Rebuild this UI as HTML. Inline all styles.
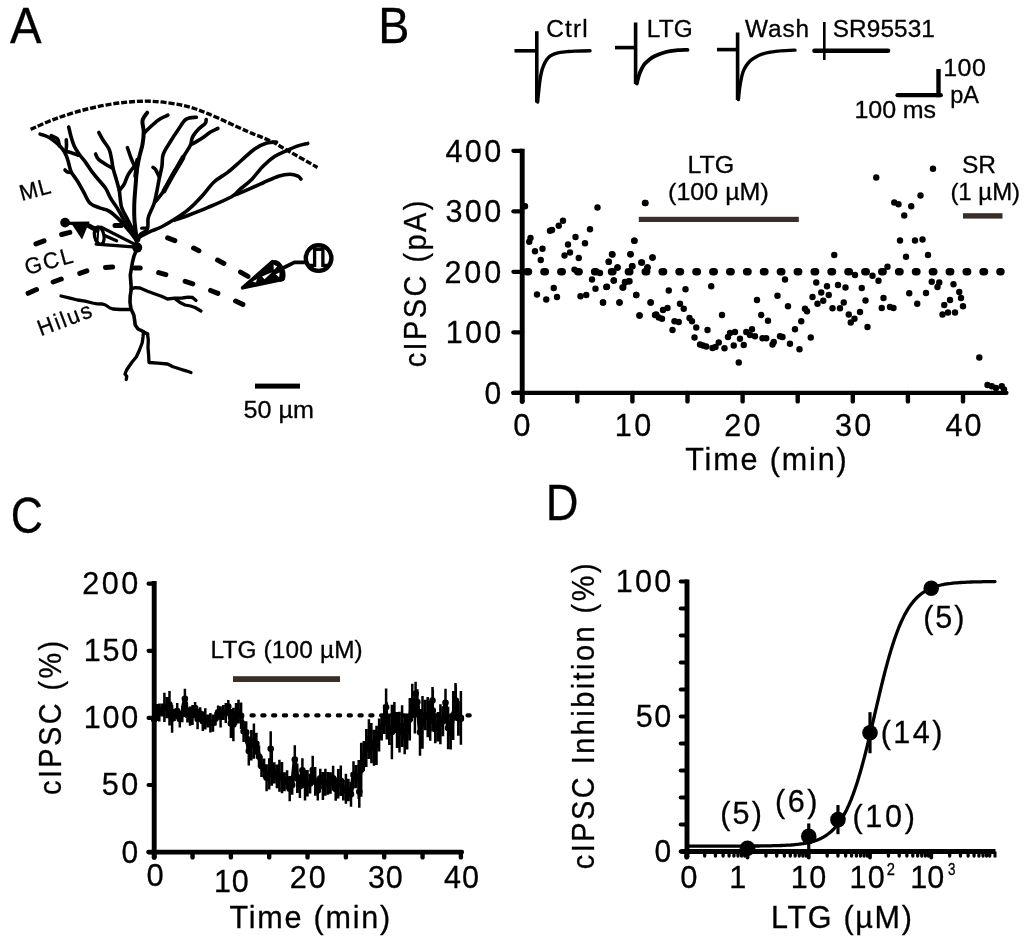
<!DOCTYPE html>
<html lang="en"><head><meta charset="utf-8"><title>Figure</title>
<style>html,body{margin:0;padding:0;background:#fff;overflow:hidden}svg{display:block}text{font-family:"Liberation Sans",sans-serif;fill:#000;stroke:#000;stroke-width:0.3px}</style></head>
<body><svg width="1024" height="945" viewBox="0 0 1024 945">
<rect width="1024" height="945" fill="#fff"/>
<!-- Panel A : neuron drawing -->
<text transform="translate(10.00,42.90) scale(0.9474,1)" font-size="50.0" letter-spacing="0.000">A</text>
<path d="M30.6,129.4 C35.0,127.6 47.1,121.8 56.7,118.3 C66.4,114.8 77.9,111.3 88.5,108.7 C99.1,106.1 109.6,104.1 120.2,102.9 C130.8,101.7 141.4,100.8 152.0,101.3 C162.6,101.8 174.4,103.5 183.7,105.6 C193.0,107.7 197.4,109.4 208.0,113.7 C218.6,118.0 236.8,126.8 247.2,131.3 C257.6,135.9 264.1,137.9 270.6,141.0 C277.1,144.1 278.5,145.4 286.3,149.8 C294.1,154.2 312.3,164.5 317.5,167.4" fill="none" stroke="#000" stroke-width="3.4" stroke-dasharray="6 1.9"/>
<path d="M137.0,246.0 C136.8,244.2 136.5,239.1 136.1,234.9 C135.7,230.7 134.8,225.1 134.5,220.6 C134.2,216.1 134.1,212.1 134.2,207.9 C134.2,203.7 134.5,199.4 134.8,195.2 C135.1,191.0 135.5,186.7 135.8,182.5 C136.2,178.3 136.3,174.0 136.9,169.8 C137.5,165.6 138.4,161.3 139.3,157.1 C140.2,152.9 141.8,148.6 142.5,144.4 C143.2,140.2 143.7,135.7 143.7,131.7 C143.7,127.7 141.9,123.8 142.5,120.6 C143.1,117.4 146.4,114.0 147.2,112.7" fill="none" stroke="#000" stroke-width="4.0" stroke-linecap="round" stroke-linejoin="round"/>
<path d="M135.6,176.0 C135.8,174.7 136.3,170.7 136.6,168.0 C136.9,165.3 137.3,161.3 137.5,160.0" fill="none" stroke="#000" stroke-width="4.6" stroke-linecap="round" stroke-linejoin="round"/>
<path d="M144.0,133.3 C145.3,132.0 149.3,127.8 152.0,125.4 C154.7,123.0 157.2,120.7 159.9,119.0 C162.6,117.3 166.6,115.8 167.9,115.1" fill="none" stroke="#000" stroke-width="3.6" stroke-linecap="round" stroke-linejoin="round"/>
<path d="M136.5,170.0 C135.6,168.1 132.8,162.4 131.3,158.7 C129.8,155.0 128.1,149.4 127.4,147.6" fill="none" stroke="#000" stroke-width="3.6" stroke-linecap="round" stroke-linejoin="round"/>
<path d="M136.5,240.0 C136.2,238.9 135.9,236.5 134.5,233.3 C133.1,230.1 130.3,224.8 128.2,220.6 C126.1,216.4 123.1,211.6 121.8,207.9 C120.5,204.2 120.6,201.3 120.2,198.4 C119.8,195.5 119.5,191.8 119.4,190.5" fill="none" stroke="#000" stroke-width="3.6" stroke-linecap="round" stroke-linejoin="round"/>
<path d="M119.4,190.5 C118.9,188.7 117.3,183.1 116.3,179.4 C115.2,175.7 113.9,171.8 113.1,168.3 C112.3,164.9 112.2,161.9 111.5,158.7 C110.8,155.5 110.5,152.4 109.1,149.2 C107.6,146.0 104.5,142.5 102.8,139.7 C101.1,136.9 99.5,133.7 98.8,132.5" fill="none" stroke="#000" stroke-width="3.6" stroke-linecap="round" stroke-linejoin="round"/>
<path d="M119.4,190.5 C120.2,189.4 122.7,186.8 124.2,184.1 C125.7,181.4 126.5,177.6 128.2,174.6 C129.9,171.6 133.4,167.4 134.5,166.0" fill="none" stroke="#000" stroke-width="3.6" stroke-linecap="round" stroke-linejoin="round"/>
<path d="M112.5,168.3 C111.2,167.5 106.8,165.1 104.4,163.5 C102.0,161.9 99.5,160.3 98.0,158.7 C96.5,157.1 96.0,154.8 95.6,154.0" fill="none" stroke="#000" stroke-width="3.6" stroke-linecap="round" stroke-linejoin="round"/>
<path d="M137.0,240.0 C135.8,238.1 132.1,232.1 129.8,228.6 C127.5,225.1 125.5,222.4 123.4,219.0 C121.3,215.6 119.2,211.3 117.1,207.9 C115.0,204.5 112.5,201.6 110.7,198.4 C108.9,195.2 107.8,191.8 106.0,188.9 C104.2,186.0 102.0,183.9 99.6,181.0 C97.2,178.1 94.1,174.6 91.7,171.4 C89.3,168.2 87.4,164.8 85.3,161.9 C83.2,159.0 80.8,156.7 79.0,154.0 C77.2,151.3 75.5,148.9 74.2,146.0 C72.9,143.1 71.9,139.7 71.0,136.5 C70.1,133.3 69.1,128.6 68.7,127.0" fill="none" stroke="#000" stroke-width="3.6" stroke-linecap="round" stroke-linejoin="round"/>
<path d="M136.0,240.0 C135.0,238.6 132.4,234.9 129.8,231.7 C127.2,228.5 123.7,224.0 120.2,220.6 C116.8,217.2 112.5,213.2 109.1,211.1 C105.7,209.0 102.8,209.2 99.6,207.9 C96.4,206.6 92.8,205.8 90.1,203.2 C87.4,200.6 85.8,195.8 83.7,192.1 C81.6,188.4 79.5,184.4 77.4,181.0 C75.3,177.6 72.6,174.8 71.0,171.4 C69.4,168.0 69.0,163.5 67.9,160.3 C66.9,157.1 66.0,154.8 64.7,152.4 C63.4,150.0 61.8,148.0 59.9,146.0 C58.0,144.0 55.7,142.1 53.6,140.5 C51.5,138.9 49.5,137.6 47.2,136.5 C45.0,135.4 41.3,134.5 40.1,134.1" fill="none" stroke="#000" stroke-width="3.6" stroke-linecap="round" stroke-linejoin="round"/>
<path d="M65.5,153.0 C65.7,151.8 66.4,148.2 66.5,146.0 C66.6,143.8 66.3,140.8 66.3,139.7" fill="none" stroke="#000" stroke-width="3.6" stroke-linecap="round" stroke-linejoin="round"/>
<path d="M59.5,146.0 C59.2,144.8 58.9,140.6 57.5,138.9 C56.1,137.2 52.2,136.2 51.2,135.7" fill="none" stroke="#000" stroke-width="3.6" stroke-linecap="round" stroke-linejoin="round"/>
<path d="M64.7,151.0 C66.0,151.4 70.3,152.5 72.6,153.2 C74.9,153.9 77.4,154.9 78.4,155.2" fill="none" stroke="#000" stroke-width="3.6" stroke-linecap="round" stroke-linejoin="round"/>
<path d="M71.0,172.5 C70.4,172.4 68.5,172.4 67.5,172.0 C66.5,171.6 65.4,170.3 65.0,170.0" fill="none" stroke="#000" stroke-width="3.6" stroke-linecap="round" stroke-linejoin="round"/>
<path d="M138.5,240.0 C138.8,239.2 138.5,236.7 140.0,234.9 C141.5,233.1 146.0,231.9 147.4,229.0 C148.8,226.1 147.2,221.6 148.3,217.4 C149.4,213.2 152.5,208.2 153.9,204.0 C155.3,199.8 155.7,196.7 156.6,192.5 C157.5,188.3 158.3,183.1 159.2,178.8 C160.1,174.5 161.2,170.6 161.9,166.5 C162.6,162.4 161.8,158.5 163.2,154.4 C164.5,150.3 167.5,146.3 170.0,142.2 C172.5,138.1 175.3,133.8 178.0,130.0 C180.7,126.2 182.9,121.4 186.0,119.3 C189.1,117.2 194.7,117.5 196.4,117.2" fill="none" stroke="#000" stroke-width="3.6" stroke-linecap="round" stroke-linejoin="round"/>
<path d="M159.3,177.1 C158.7,175.8 156.5,170.9 155.4,169.3 C154.3,167.7 153.4,167.7 153.0,167.4" fill="none" stroke="#000" stroke-width="3.6" stroke-linecap="round" stroke-linejoin="round"/>
<path d="M155.4,201.6 C156.7,200.0 160.6,195.7 163.2,191.8 C165.8,187.9 168.6,182.3 171.0,178.1 C173.4,173.9 175.6,170.3 177.9,166.4 C180.2,162.5 182.6,158.3 184.7,154.7 C186.8,151.1 189.2,147.8 190.5,144.9 C191.8,142.0 191.2,139.7 192.5,137.1 C193.8,134.5 196.3,131.6 198.4,129.3 C200.5,127.0 203.9,125.0 205.2,123.4 C206.5,121.8 206.0,120.2 206.2,119.5" fill="none" stroke="#000" stroke-width="3.6" stroke-linecap="round" stroke-linejoin="round"/>
<path d="M164.0,191.0 C165.2,188.8 168.7,182.2 171.0,178.1 C173.3,174.0 175.9,169.8 177.9,166.4 C179.9,163.0 182.2,159.0 183.0,157.5" fill="none" stroke="#000" stroke-width="4.8" stroke-linecap="round" stroke-linejoin="round"/>
<path d="M192.5,143.9 C194.1,142.9 199.4,140.1 202.3,138.1 C205.2,136.1 207.5,133.8 210.1,132.2 C212.7,130.6 216.6,129.0 217.9,128.3" fill="none" stroke="#000" stroke-width="3.6" stroke-linecap="round" stroke-linejoin="round"/>
<path d="M138.0,238.0 C139.9,237.0 145.6,233.6 149.5,231.8 C153.4,230.0 157.1,229.1 161.3,227.0 C165.5,224.9 170.4,222.0 174.9,219.1 C179.4,216.2 184.0,213.3 188.6,209.4 C193.2,205.5 198.1,200.3 202.3,195.7 C206.5,191.1 209.8,185.9 214.0,182.0 C218.2,178.1 223.1,175.9 227.7,172.3 C232.2,168.7 236.8,164.4 241.3,160.5 C245.9,156.6 250.8,151.7 255.0,148.8 C259.2,145.9 263.1,144.1 266.7,143.0 C270.3,141.9 274.9,142.2 276.5,142.0" fill="none" stroke="#000" stroke-width="3.6" stroke-linecap="round" stroke-linejoin="round"/>
<path d="M174.9,220.1 C177.2,219.3 183.1,217.3 188.6,215.2 C194.1,213.1 200.9,210.5 208.1,207.4 C215.3,204.3 226.4,199.6 231.6,196.7 C236.8,193.8 236.2,192.6 239.4,189.8 C242.7,187.0 247.2,184.0 251.1,180.1 C255.0,176.2 258.9,170.3 262.8,166.4 C266.7,162.5 270.6,159.2 274.5,156.6 C278.4,154.0 282.4,152.6 286.3,150.8 C290.2,149.0 294.4,147.1 298.0,145.9 C301.6,144.7 306.1,143.8 307.7,143.4" fill="none" stroke="#000" stroke-width="3.6" stroke-linecap="round" stroke-linejoin="round"/>
<path d="M235.5,194.7 C237.4,193.9 242.6,191.8 247.2,189.8 C251.8,187.9 257.6,185.3 262.8,183.0 C268.0,180.7 273.8,177.7 278.4,176.2 C283.0,174.7 286.9,174.2 290.2,174.2 C293.5,174.2 296.2,175.4 298.0,176.2 C299.8,177.0 300.4,178.6 300.9,179.1" fill="none" stroke="#000" stroke-width="3.6" stroke-linecap="round" stroke-linejoin="round"/>
<line x1="141.70" y1="228.20" x2="147.20" y2="228.20" stroke="#000" stroke-width="3.2" stroke-linecap="round"/>
<circle cx="137.20" cy="247.60" r="5" fill="#000"/>
<polyline points="136.5,250.0 134.0,256.0 132.5,262.0 131.5,268.0 130.3,275.0 130.8,282.0 131.3,289.0 130.2,296.0 130.0,302.5 131.0,309.0 133.8,315.0 134.6,320.0 135.2,325.0 138.0,329.0 142.5,331.2 147.5,334.0" fill="none" stroke="#000" stroke-width="3.5999999999999996" stroke-linecap="round" stroke-linejoin="round"/>
<polyline points="143.5,332.0 143.0,337.0 142.3,342.5 139.5,350.0 136.3,357.0 132.5,361.5 129.3,366.0 126.6,370.0 125.0,374.0 126.8,376.5 126.2,379.5" fill="none" stroke="#000" stroke-width="3.3" stroke-linecap="round" stroke-linejoin="round"/>
<polyline points="147.5,334.0 148.3,340.0 148.0,347.5 148.6,355.0 149.0,362.5 158.0,363.2 167.5,364.0 173.0,366.8 180.0,369.0 186.0,370.8 191.0,372.5" fill="none" stroke="#000" stroke-width="3.3" stroke-linecap="round" stroke-linejoin="round"/>
<polyline points="131.0,289.0 135.0,287.6 140.0,288.0 147.5,291.2 155.0,294.0 161.5,296.3 167.5,299.0 175.0,298.2 182.5,298.0 188.0,297.2 192.5,297.5 196.0,300.5" fill="none" stroke="#000" stroke-width="3.3" stroke-linecap="round" stroke-linejoin="round"/>
<polyline points="175.0,298.6 180.0,302.5 185.0,305.0 190.5,306.0 195.0,307.5 201.0,311.0" fill="none" stroke="#000" stroke-width="3.3" stroke-linecap="round" stroke-linejoin="round"/>
<polyline points="130.5,309.5 120.0,309.5 113.0,309.0 110.0,308.0 105.5,305.0 102.5,304.0 97.0,303.8 92.5,303.0 85.0,301.2 77.5,300.0 69.0,297.8 61.0,296.0" fill="none" stroke="#000" stroke-width="3.3" stroke-linecap="round" stroke-linejoin="round"/>
<line x1="115.00" y1="225.60" x2="121.20" y2="225.60" stroke="#000" stroke-width="5.0" stroke-linecap="round"/>
<line x1="61.66" y1="234.49" x2="69.84" y2="232.31" stroke="#000" stroke-width="5.0" stroke-linecap="round"/>
<line x1="35.93" y1="243.89" x2="44.07" y2="240.91" stroke="#000" stroke-width="5.0" stroke-linecap="round"/>
<line x1="167.63" y1="237.91" x2="174.87" y2="240.59" stroke="#000" stroke-width="5.0" stroke-linecap="round"/>
<line x1="193.58" y1="248.03" x2="198.92" y2="250.67" stroke="#000" stroke-width="5.0" stroke-linecap="round"/>
<line x1="217.56" y1="260.06" x2="223.94" y2="263.44" stroke="#000" stroke-width="5.0" stroke-linecap="round"/>
<line x1="240.54" y1="272.10" x2="247.96" y2="276.40" stroke="#000" stroke-width="5.0" stroke-linecap="round"/>
<line x1="105.50" y1="267.50" x2="112.60" y2="266.90" stroke="#000" stroke-width="5.0" stroke-linecap="round"/>
<line x1="79.73" y1="273.40" x2="86.87" y2="270.90" stroke="#000" stroke-width="5.0" stroke-linecap="round"/>
<line x1="53.13" y1="281.99" x2="61.27" y2="279.01" stroke="#000" stroke-width="5.0" stroke-linecap="round"/>
<line x1="28.09" y1="293.30" x2="36.51" y2="289.50" stroke="#000" stroke-width="5.0" stroke-linecap="round"/>
<line x1="134.70" y1="268.00" x2="140.20" y2="268.00" stroke="#000" stroke-width="5.0" stroke-linecap="round"/>
<line x1="158.65" y1="272.63" x2="165.85" y2="274.67" stroke="#000" stroke-width="5.0" stroke-linecap="round"/>
<line x1="185.14" y1="281.37" x2="192.86" y2="283.83" stroke="#000" stroke-width="5.0" stroke-linecap="round"/>
<line x1="210.61" y1="290.45" x2="217.89" y2="293.35" stroke="#000" stroke-width="5.0" stroke-linecap="round"/>
<line x1="235.58" y1="301.01" x2="242.92" y2="304.49" stroke="#000" stroke-width="5.0" stroke-linecap="round"/>
<text transform="translate(23.50,200.50) rotate(-15.00) translate(-1.70,0.00) scale(0.9700,1)" font-size="22.6" letter-spacing="0.884">ML</text>
<text transform="translate(28.00,274.80) rotate(-15.15) translate(-1.09,0.00) scale(0.9700,1)" font-size="22.6" letter-spacing="2.083">GCL</text>
<text transform="translate(42.40,335.70) rotate(-20.62) translate(-1.70,0.00) scale(0.9700,1)" font-size="22.6" letter-spacing="1.969">Hilus</text>
<circle cx="65.10" cy="222.60" r="4.9" fill="#000"/>
<line x1="65.00" y1="222.80" x2="90.00" y2="225.40" stroke="#000" stroke-width="3.0" stroke-linecap="butt"/>
<polygon points="70.2,221.8 89.6,221.4 82,239.4" fill="#000"/>
<line x1="88.50" y1="225.60" x2="97.00" y2="230.20" stroke="#000" stroke-width="5.0" stroke-linecap="round"/>
<path d="M101.2,227.2 L135.5,244.6 M96.2,244.2 L133,246.8 M104.5,235.4 L116.6,240.8" fill="none" stroke="#000" stroke-width="3.3" stroke-linecap="round"/>
<ellipse cx="99.2" cy="235.6" rx="4.7" ry="8.8" transform="rotate(-12 99.2 235.6)" fill="none" stroke="#000" stroke-width="3.2"/>
<line x1="98.20" y1="229.00" x2="97.40" y2="242.50" stroke="#000" stroke-width="2.2" stroke-linecap="butt"/>
<polygon points="242.6,287.8 272.5,261.6 283,279.2" fill="#000" stroke="#000" stroke-width="3.6" stroke-linejoin="round"/>
<ellipse cx="277.8" cy="270.8" rx="5.0" ry="9.6" transform="rotate(-24 277.8 270.8)" fill="#000" stroke="#000" stroke-width="3.6"/>
<path d="M252.5,281.6 L257,279 L256,282.6 Z M262,276.6 L272,272.2 L264.5,279.2 Z M273.6,264.6 L277.2,266.6 L273.8,270 Z M275.6,274.2 L279.6,272.4 L279.2,277.2 Z" fill="#fff"/>
<polyline points="282.6,268.3 294.4,262.4 305.6,262.4" fill="none" stroke="#000" stroke-width="3.8" stroke-linecap="round" stroke-linejoin="round"/>
<circle cx="318.60" cy="258.10" r="12.8" fill="#fff" stroke="#000" stroke-width="4.4"/>
<path d="M310,265.4 H314.6 V249.4 H322.9 V265.4 H327.4" fill="none" stroke="#000" stroke-width="3.3" stroke-linejoin="miter"/>
<rect x="255.00" y="383.60" width="45.00" height="5.00" fill="#000"/>
<text transform="translate(243.59,417.90) scale(1.0402,1)" font-size="24.2" letter-spacing="0.000">50 µm</text>
<!-- Panel B : example traces + time course -->
<text transform="translate(378.16,42.90) scale(0.9346,1)" font-size="50.0" letter-spacing="0.000">B</text>
<line x1="514.50" y1="50.80" x2="535.00" y2="50.80" stroke="#000" stroke-width="3.6" stroke-linecap="butt"/>
<line x1="536.80" y1="31.20" x2="536.80" y2="102.50" stroke="#000" stroke-width="3.6" stroke-linecap="butt"/>
<path d="M537.6,102.0 C537.8,100.3 538.2,95.7 538.6,92.0 C539.0,88.3 539.5,83.4 540.0,80.0 C540.5,76.6 541.0,74.0 541.6,71.5 C542.2,69.0 543.0,66.9 543.8,65.0 C544.6,63.1 545.5,61.5 546.5,60.0 C547.5,58.5 548.7,57.2 550.0,56.2 C551.3,55.2 552.8,54.4 554.5,53.8 C556.2,53.2 557.9,52.8 560.0,52.4 C562.1,52.0 564.5,51.8 567.0,51.6 C569.5,51.4 571.2,51.2 575.0,51.1 C578.8,51.0 587.5,50.8 590.0,50.7" fill="none" stroke="#000" stroke-width="3.4" stroke-linecap="round" stroke-linejoin="round"/>
<line x1="615.00" y1="47.60" x2="634.00" y2="47.60" stroke="#000" stroke-width="3.6" stroke-linecap="butt"/>
<line x1="635.60" y1="22.50" x2="635.60" y2="84.00" stroke="#000" stroke-width="3.6" stroke-linecap="butt"/>
<path d="M636.8,83.5 C637.0,82.6 637.7,79.8 638.2,78.0 C638.7,76.2 639.3,74.2 640.0,72.5 C640.7,70.8 641.5,69.1 642.3,67.6 C643.1,66.1 643.8,65.0 645.0,63.6 C646.2,62.2 647.8,60.7 649.5,59.4 C651.2,58.1 652.9,57.0 655.0,56.0 C657.1,55.0 659.5,54.0 662.0,53.2 C664.5,52.4 667.3,51.7 670.0,51.2 C672.7,50.7 675.1,50.4 678.0,50.2 C680.9,50.0 685.9,49.9 687.5,49.8" fill="none" stroke="#000" stroke-width="3.8" stroke-linecap="round" stroke-linejoin="round"/>
<line x1="717.00" y1="49.60" x2="736.00" y2="49.60" stroke="#000" stroke-width="3.6" stroke-linecap="butt"/>
<line x1="737.60" y1="32.50" x2="737.60" y2="100.00" stroke="#000" stroke-width="3.6" stroke-linecap="butt"/>
<path d="M738.4,99.5 C738.6,97.9 739.0,93.2 739.4,90.0 C739.8,86.8 740.4,83.0 741.0,80.0 C741.6,77.0 742.2,74.3 743.0,72.0 C743.8,69.7 744.8,67.8 746.0,66.0 C747.2,64.2 748.5,62.4 750.0,61.0 C751.5,59.6 753.0,58.5 755.0,57.4 C757.0,56.3 759.5,55.1 762.0,54.2 C764.5,53.3 767.0,52.8 770.0,52.2 C773.0,51.7 775.8,51.2 780.0,50.9 C784.2,50.5 792.5,50.2 795.0,50.1" fill="none" stroke="#000" stroke-width="3.4" stroke-linecap="round" stroke-linejoin="round"/>
<line x1="824.30" y1="22.00" x2="824.30" y2="60.00" stroke="#000" stroke-width="2.6" stroke-linecap="butt"/>
<line x1="814.50" y1="50.80" x2="888.00" y2="50.80" stroke="#000" stroke-width="4.6" stroke-linecap="round"/>
<text transform="translate(546.31,37.40) scale(1.0600,1)" font-size="23.0" letter-spacing="1.065">Ctrl</text>
<text transform="translate(646.81,37.40) scale(1.0600,1)" font-size="23.0" letter-spacing="0.156">LTG</text>
<text transform="translate(745.00,36.70) scale(1.0600,1)" font-size="23.0" letter-spacing="0.821">Wash</text>
<text transform="translate(832.74,36.70) scale(1.0600,1)" font-size="23.0" letter-spacing="0.077">SR95531</text>
<line x1="897.50" y1="95.20" x2="940.80" y2="95.20" stroke="#000" stroke-width="4.2" stroke-linecap="round"/>
<line x1="938.50" y1="69.00" x2="938.50" y2="97.20" stroke="#000" stroke-width="4.4" stroke-linecap="butt"/>
<text transform="translate(854.54,118.00) scale(1.0600,1)" font-size="23.6" letter-spacing="-0.088">100 ms</text>
<text transform="translate(943.14,76.00) scale(1.0600,1)" font-size="23.6" letter-spacing="0.493">100</text>
<text transform="translate(950.20,102.60) scale(0.9973,1)" font-size="23.6" letter-spacing="0.000">pA</text>
<line x1="522.20" y1="148.80" x2="522.20" y2="401.60" stroke="#000" stroke-width="4.9" stroke-linecap="butt"/>
<circle cx="522.20" cy="401.60" r="2.45" fill="#000"/>
<line x1="513.40" y1="392.85" x2="1006.40" y2="392.85" stroke="#000" stroke-width="4.4" stroke-linecap="round"/>
<line x1="513.40" y1="392.85" x2="522.20" y2="392.85" stroke="#000" stroke-width="4.2" stroke-linecap="round"/>
<line x1="513.40" y1="332.35" x2="522.20" y2="332.35" stroke="#000" stroke-width="4.2" stroke-linecap="round"/>
<line x1="513.40" y1="271.85" x2="522.20" y2="271.85" stroke="#000" stroke-width="4.2" stroke-linecap="round"/>
<line x1="513.40" y1="211.35" x2="522.20" y2="211.35" stroke="#000" stroke-width="4.2" stroke-linecap="round"/>
<line x1="513.40" y1="150.85" x2="522.20" y2="150.85" stroke="#000" stroke-width="4.2" stroke-linecap="round"/>
<line x1="522.20" y1="392.85" x2="522.20" y2="401.40" stroke="#000" stroke-width="4.4" stroke-linecap="round"/>
<line x1="577.30" y1="392.85" x2="577.30" y2="401.40" stroke="#000" stroke-width="4.4" stroke-linecap="round"/>
<line x1="632.40" y1="392.85" x2="632.40" y2="401.40" stroke="#000" stroke-width="4.4" stroke-linecap="round"/>
<line x1="687.50" y1="392.85" x2="687.50" y2="401.40" stroke="#000" stroke-width="4.4" stroke-linecap="round"/>
<line x1="742.60" y1="392.85" x2="742.60" y2="401.40" stroke="#000" stroke-width="4.4" stroke-linecap="round"/>
<line x1="797.70" y1="392.85" x2="797.70" y2="401.40" stroke="#000" stroke-width="4.4" stroke-linecap="round"/>
<line x1="852.80" y1="392.85" x2="852.80" y2="401.40" stroke="#000" stroke-width="4.4" stroke-linecap="round"/>
<line x1="907.90" y1="392.85" x2="907.90" y2="401.40" stroke="#000" stroke-width="4.4" stroke-linecap="round"/>
<line x1="963.00" y1="392.85" x2="963.00" y2="401.40" stroke="#000" stroke-width="4.4" stroke-linecap="round"/>
<text transform="translate(445.39,161.75) scale(0.9700,1)" font-size="31.5" letter-spacing="2.460">400</text>
<text transform="translate(445.41,222.25) scale(0.9700,1)" font-size="31.5" letter-spacing="2.452">300</text>
<text transform="translate(444.55,282.75) scale(0.9700,1)" font-size="31.5" letter-spacing="2.898">200</text>
<text transform="translate(445.70,343.25) scale(0.9700,1)" font-size="31.5" letter-spacing="2.304">100</text>
<text transform="translate(484.43,403.75) scale(0.9508,1)" font-size="31.5" letter-spacing="0.000">0</text>
<text transform="translate(513.19,435.60) scale(0.9836,1)" font-size="31.5" letter-spacing="0.000">0</text>
<text transform="translate(614.70,435.60) scale(0.9700,1)" font-size="31.5" letter-spacing="2.521">10</text>
<text transform="translate(724.34,435.60) scale(0.9700,1)" font-size="31.5" letter-spacing="2.161">20</text>
<text transform="translate(834.91,435.60) scale(0.9700,1)" font-size="31.5" letter-spacing="2.302">30</text>
<text transform="translate(945.39,435.60) scale(0.9700,1)" font-size="31.5" letter-spacing="2.317">40</text>
<text transform="translate(685.19,469.90) scale(0.9700,1)" font-size="31.5" letter-spacing="1.917">Time (min)</text>
<text transform="translate(426.30,366.20) rotate(-90) translate(-1.15,0.00) scale(0.9200,1)" font-size="31.5" letter-spacing="2.654">cIPSC (pA)</text>
<line x1="527" y1="271.7" x2="1001" y2="271.7" stroke="#000" stroke-width="7.4" stroke-linecap="round" stroke-dasharray="1.5 15.39"/>
<rect x="638.80" y="216.80" width="160.00" height="5.20" fill="#3a2e29"/>
<rect x="963.00" y="213.20" width="39.50" height="5.40" fill="#3a2e29"/>
<text transform="translate(687.51,173.40) scale(1.0600,1)" font-size="23.6" letter-spacing="-0.029">LTG</text>
<text transform="translate(668.04,199.90) scale(1.0600,1)" font-size="23.6" letter-spacing="0.029">(100 µM)</text>
<text transform="translate(961.96,173.40) scale(1.0407,1)" font-size="23.6" letter-spacing="0.000">SR</text>
<text transform="translate(950.40,199.90) scale(1.0152,1)" font-size="23.6" letter-spacing="0.000">(1 µM)</text>
<circle cx="525.00" cy="206.25" r="3.2" fill="#000"/>
<circle cx="530.50" cy="238.00" r="3.2" fill="#000"/>
<circle cx="529.25" cy="241.75" r="3.2" fill="#000"/>
<circle cx="535.00" cy="251.25" r="3.2" fill="#000"/>
<circle cx="542.50" cy="248.75" r="3.2" fill="#000"/>
<circle cx="540.75" cy="260.00" r="3.2" fill="#000"/>
<circle cx="537.00" cy="294.50" r="3.2" fill="#000"/>
<circle cx="546.25" cy="299.50" r="3.2" fill="#000"/>
<circle cx="553.75" cy="288.00" r="3.2" fill="#000"/>
<circle cx="557.00" cy="297.00" r="3.2" fill="#000"/>
<circle cx="550.00" cy="230.75" r="3.2" fill="#000"/>
<circle cx="552.00" cy="230.00" r="3.2" fill="#000"/>
<circle cx="558.75" cy="225.75" r="3.2" fill="#000"/>
<circle cx="563.00" cy="220.75" r="3.2" fill="#000"/>
<circle cx="568.00" cy="244.50" r="3.2" fill="#000"/>
<circle cx="575.50" cy="237.00" r="3.2" fill="#000"/>
<circle cx="564.50" cy="255.50" r="3.2" fill="#000"/>
<circle cx="570.00" cy="252.50" r="3.2" fill="#000"/>
<circle cx="578.75" cy="258.00" r="3.2" fill="#000"/>
<circle cx="585.00" cy="243.25" r="3.2" fill="#000"/>
<circle cx="590.00" cy="229.25" r="3.2" fill="#000"/>
<circle cx="597.50" cy="207.50" r="3.2" fill="#000"/>
<circle cx="580.50" cy="296.25" r="3.2" fill="#000"/>
<circle cx="586.25" cy="295.00" r="3.2" fill="#000"/>
<circle cx="592.00" cy="279.50" r="3.2" fill="#000"/>
<circle cx="595.50" cy="288.75" r="3.2" fill="#000"/>
<circle cx="603.00" cy="302.50" r="3.2" fill="#000"/>
<circle cx="600.00" cy="273.00" r="3.2" fill="#000"/>
<circle cx="607.00" cy="286.75" r="3.2" fill="#000"/>
<circle cx="608.75" cy="261.75" r="3.2" fill="#000"/>
<circle cx="612.50" cy="254.50" r="3.2" fill="#000"/>
<circle cx="613.75" cy="280.50" r="3.2" fill="#000"/>
<circle cx="617.50" cy="267.50" r="3.2" fill="#000"/>
<circle cx="619.50" cy="302.50" r="3.2" fill="#000"/>
<circle cx="623.25" cy="287.50" r="3.2" fill="#000"/>
<circle cx="625.00" cy="282.50" r="3.2" fill="#000"/>
<circle cx="628.75" cy="281.25" r="3.2" fill="#000"/>
<circle cx="632.50" cy="266.25" r="3.2" fill="#000"/>
<circle cx="630.50" cy="254.25" r="3.2" fill="#000"/>
<circle cx="634.25" cy="240.75" r="3.2" fill="#000"/>
<circle cx="636.25" cy="295.00" r="3.2" fill="#000"/>
<circle cx="639.50" cy="315.50" r="3.2" fill="#000"/>
<circle cx="642.00" cy="262.50" r="3.2" fill="#000"/>
<circle cx="647.50" cy="267.50" r="3.2" fill="#000"/>
<circle cx="645.50" cy="203.00" r="3.2" fill="#000"/>
<circle cx="650.75" cy="302.50" r="3.2" fill="#000"/>
<circle cx="652.50" cy="257.50" r="3.2" fill="#000"/>
<circle cx="655.00" cy="315.00" r="3.2" fill="#000"/>
<circle cx="645.00" cy="203.00" r="3.2" fill="#000"/>
<circle cx="634.50" cy="240.75" r="3.2" fill="#000"/>
<circle cx="612.00" cy="254.25" r="3.2" fill="#000"/>
<circle cx="630.50" cy="254.25" r="3.2" fill="#000"/>
<circle cx="652.50" cy="257.50" r="3.2" fill="#000"/>
<circle cx="608.75" cy="261.75" r="3.2" fill="#000"/>
<circle cx="641.25" cy="262.50" r="3.2" fill="#000"/>
<circle cx="632.00" cy="266.25" r="3.2" fill="#000"/>
<circle cx="617.50" cy="267.50" r="3.2" fill="#000"/>
<circle cx="647.50" cy="267.50" r="3.2" fill="#000"/>
<circle cx="613.75" cy="280.50" r="3.2" fill="#000"/>
<circle cx="625.00" cy="282.00" r="3.2" fill="#000"/>
<circle cx="629.50" cy="281.25" r="3.2" fill="#000"/>
<circle cx="622.50" cy="287.50" r="3.2" fill="#000"/>
<circle cx="606.25" cy="287.00" r="3.2" fill="#000"/>
<circle cx="636.25" cy="295.00" r="3.2" fill="#000"/>
<circle cx="603.00" cy="302.50" r="3.2" fill="#000"/>
<circle cx="619.50" cy="302.50" r="3.2" fill="#000"/>
<circle cx="650.50" cy="302.50" r="3.2" fill="#000"/>
<circle cx="639.50" cy="315.50" r="3.2" fill="#000"/>
<circle cx="668.75" cy="290.50" r="3.2" fill="#000"/>
<circle cx="685.50" cy="289.25" r="3.2" fill="#000"/>
<circle cx="711.25" cy="286.25" r="3.2" fill="#000"/>
<circle cx="680.00" cy="303.75" r="3.2" fill="#000"/>
<circle cx="683.75" cy="308.75" r="3.2" fill="#000"/>
<circle cx="667.50" cy="308.00" r="3.2" fill="#000"/>
<circle cx="663.00" cy="310.00" r="3.2" fill="#000"/>
<circle cx="656.25" cy="314.50" r="3.2" fill="#000"/>
<circle cx="658.75" cy="317.50" r="3.2" fill="#000"/>
<circle cx="662.00" cy="318.75" r="3.2" fill="#000"/>
<circle cx="674.50" cy="321.25" r="3.2" fill="#000"/>
<circle cx="678.75" cy="322.00" r="3.2" fill="#000"/>
<circle cx="672.50" cy="330.00" r="3.2" fill="#000"/>
<circle cx="689.50" cy="318.00" r="3.2" fill="#000"/>
<circle cx="692.00" cy="321.25" r="3.2" fill="#000"/>
<circle cx="696.25" cy="327.50" r="3.2" fill="#000"/>
<circle cx="707.50" cy="330.00" r="3.2" fill="#000"/>
<circle cx="694.50" cy="337.50" r="3.2" fill="#000"/>
<circle cx="700.00" cy="344.50" r="3.2" fill="#000"/>
<circle cx="703.00" cy="345.50" r="3.2" fill="#000"/>
<circle cx="706.25" cy="346.50" r="3.2" fill="#000"/>
<circle cx="712.50" cy="348.00" r="3.2" fill="#000"/>
<circle cx="715.50" cy="347.00" r="3.2" fill="#000"/>
<circle cx="718.75" cy="342.50" r="3.2" fill="#000"/>
<circle cx="724.50" cy="348.25" r="3.2" fill="#000"/>
<circle cx="722.00" cy="315.00" r="3.2" fill="#000"/>
<circle cx="728.00" cy="337.00" r="3.2" fill="#000"/>
<circle cx="730.00" cy="333.00" r="3.2" fill="#000"/>
<circle cx="735.00" cy="332.00" r="3.2" fill="#000"/>
<circle cx="733.75" cy="345.50" r="3.2" fill="#000"/>
<circle cx="740.00" cy="338.75" r="3.2" fill="#000"/>
<circle cx="743.75" cy="345.00" r="3.2" fill="#000"/>
<circle cx="746.25" cy="332.00" r="3.2" fill="#000"/>
<circle cx="750.00" cy="335.00" r="3.2" fill="#000"/>
<circle cx="752.00" cy="329.25" r="3.2" fill="#000"/>
<circle cx="755.00" cy="336.25" r="3.2" fill="#000"/>
<circle cx="738.75" cy="362.50" r="3.2" fill="#000"/>
<circle cx="757.00" cy="300.00" r="3.2" fill="#000"/>
<circle cx="761.25" cy="315.00" r="3.2" fill="#000"/>
<circle cx="768.00" cy="320.75" r="3.2" fill="#000"/>
<circle cx="762.50" cy="338.25" r="3.2" fill="#000"/>
<circle cx="766.25" cy="338.25" r="3.2" fill="#000"/>
<circle cx="772.50" cy="344.50" r="3.2" fill="#000"/>
<circle cx="773.75" cy="342.00" r="3.2" fill="#000"/>
<circle cx="780.00" cy="336.25" r="3.2" fill="#000"/>
<circle cx="782.50" cy="337.00" r="3.2" fill="#000"/>
<circle cx="777.50" cy="295.75" r="3.2" fill="#000"/>
<circle cx="785.00" cy="279.50" r="3.2" fill="#000"/>
<circle cx="788.00" cy="306.25" r="3.2" fill="#000"/>
<circle cx="790.00" cy="343.75" r="3.2" fill="#000"/>
<circle cx="799.50" cy="349.25" r="3.2" fill="#000"/>
<circle cx="795.00" cy="329.25" r="3.2" fill="#000"/>
<circle cx="801.25" cy="321.25" r="3.2" fill="#000"/>
<circle cx="805.00" cy="308.75" r="3.2" fill="#000"/>
<circle cx="807.00" cy="311.25" r="3.2" fill="#000"/>
<circle cx="810.75" cy="337.50" r="3.2" fill="#000"/>
<circle cx="812.50" cy="297.00" r="3.2" fill="#000"/>
<circle cx="816.25" cy="282.50" r="3.2" fill="#000"/>
<circle cx="821.25" cy="292.50" r="3.2" fill="#000"/>
<circle cx="823.25" cy="300.75" r="3.2" fill="#000"/>
<circle cx="817.50" cy="303.75" r="3.2" fill="#000"/>
<circle cx="827.00" cy="286.25" r="3.2" fill="#000"/>
<circle cx="828.75" cy="295.00" r="3.2" fill="#000"/>
<circle cx="834.25" cy="255.00" r="3.2" fill="#000"/>
<circle cx="832.50" cy="308.25" r="3.2" fill="#000"/>
<circle cx="838.00" cy="285.00" r="3.2" fill="#000"/>
<circle cx="840.00" cy="308.25" r="3.2" fill="#000"/>
<circle cx="843.75" cy="302.50" r="3.2" fill="#000"/>
<circle cx="845.50" cy="287.50" r="3.2" fill="#000"/>
<circle cx="848.75" cy="314.50" r="3.2" fill="#000"/>
<circle cx="850.75" cy="322.50" r="3.2" fill="#000"/>
<circle cx="854.50" cy="318.75" r="3.2" fill="#000"/>
<circle cx="855.00" cy="275.00" r="3.2" fill="#000"/>
<circle cx="861.75" cy="288.00" r="3.2" fill="#000"/>
<circle cx="865.50" cy="300.50" r="3.2" fill="#000"/>
<circle cx="860.00" cy="312.00" r="3.2" fill="#000"/>
<circle cx="867.50" cy="327.00" r="3.2" fill="#000"/>
<circle cx="876.25" cy="177.50" r="3.2" fill="#000"/>
<circle cx="872.50" cy="275.75" r="3.2" fill="#000"/>
<circle cx="878.50" cy="280.75" r="3.2" fill="#000"/>
<circle cx="883.50" cy="298.00" r="3.2" fill="#000"/>
<circle cx="881.75" cy="308.00" r="3.2" fill="#000"/>
<circle cx="890.00" cy="307.00" r="3.2" fill="#000"/>
<circle cx="893.50" cy="308.00" r="3.2" fill="#000"/>
<circle cx="887.50" cy="266.75" r="3.2" fill="#000"/>
<circle cx="894.25" cy="202.50" r="3.2" fill="#000"/>
<circle cx="898.50" cy="204.25" r="3.2" fill="#000"/>
<circle cx="904.25" cy="215.50" r="3.2" fill="#000"/>
<circle cx="911.25" cy="206.25" r="3.2" fill="#000"/>
<circle cx="920.50" cy="195.50" r="3.2" fill="#000"/>
<circle cx="933.00" cy="168.75" r="3.2" fill="#000"/>
<circle cx="900.00" cy="240.50" r="3.2" fill="#000"/>
<circle cx="915.00" cy="240.50" r="3.2" fill="#000"/>
<circle cx="922.50" cy="239.50" r="3.2" fill="#000"/>
<circle cx="906.00" cy="256.75" r="3.2" fill="#000"/>
<circle cx="928.00" cy="255.00" r="3.2" fill="#000"/>
<circle cx="909.25" cy="293.25" r="3.2" fill="#000"/>
<circle cx="917.25" cy="303.75" r="3.2" fill="#000"/>
<circle cx="926.00" cy="293.00" r="3.2" fill="#000"/>
<circle cx="931.75" cy="281.75" r="3.2" fill="#000"/>
<circle cx="939.25" cy="282.50" r="3.2" fill="#000"/>
<circle cx="937.50" cy="287.00" r="3.2" fill="#000"/>
<circle cx="953.50" cy="284.25" r="3.2" fill="#000"/>
<circle cx="959.25" cy="292.00" r="3.2" fill="#000"/>
<circle cx="961.00" cy="298.00" r="3.2" fill="#000"/>
<circle cx="950.00" cy="300.00" r="3.2" fill="#000"/>
<circle cx="963.00" cy="306.25" r="3.2" fill="#000"/>
<circle cx="944.25" cy="305.00" r="3.2" fill="#000"/>
<circle cx="942.50" cy="314.50" r="3.2" fill="#000"/>
<circle cx="948.00" cy="312.50" r="3.2" fill="#000"/>
<circle cx="955.00" cy="312.50" r="3.2" fill="#000"/>
<circle cx="574.50" cy="269.60" r="3.2" fill="#000"/>
<circle cx="979.30" cy="357.50" r="3.2" fill="#000"/>
<circle cx="987.50" cy="385.00" r="3.2" fill="#000"/>
<circle cx="991.80" cy="386.30" r="3.2" fill="#000"/>
<circle cx="996.00" cy="388.00" r="3.2" fill="#000"/>
<circle cx="1001.80" cy="386.30" r="3.2" fill="#000"/>
<circle cx="1004.00" cy="389.50" r="3.2" fill="#000"/>
<!-- Panel C : pooled time course -->
<text transform="translate(10.77,532.60) scale(0.8913,1)" font-size="50.0" letter-spacing="0.000">C</text>
<line x1="154.20" y1="581.00" x2="154.20" y2="857.40" stroke="#000" stroke-width="4.9" stroke-linecap="butt"/>
<circle cx="154.20" cy="857.40" r="2.45" fill="#000"/>
<line x1="148.60" y1="852.10" x2="461.80" y2="852.10" stroke="#000" stroke-width="4.6" stroke-linecap="round"/>
<line x1="148.60" y1="852.10" x2="154.20" y2="852.10" stroke="#000" stroke-width="4.2" stroke-linecap="round"/>
<line x1="148.60" y1="785.00" x2="154.20" y2="785.00" stroke="#000" stroke-width="4.2" stroke-linecap="round"/>
<line x1="148.60" y1="717.90" x2="154.20" y2="717.90" stroke="#000" stroke-width="4.2" stroke-linecap="round"/>
<line x1="148.60" y1="650.80" x2="154.20" y2="650.80" stroke="#000" stroke-width="4.2" stroke-linecap="round"/>
<line x1="148.60" y1="583.70" x2="154.20" y2="583.70" stroke="#000" stroke-width="4.2" stroke-linecap="round"/>
<line x1="154.20" y1="852.10" x2="154.20" y2="857.40" stroke="#000" stroke-width="4.4" stroke-linecap="round"/>
<line x1="192.53" y1="852.10" x2="192.53" y2="857.40" stroke="#000" stroke-width="4.4" stroke-linecap="round"/>
<line x1="230.87" y1="852.10" x2="230.87" y2="857.40" stroke="#000" stroke-width="4.4" stroke-linecap="round"/>
<line x1="269.20" y1="852.10" x2="269.20" y2="857.40" stroke="#000" stroke-width="4.4" stroke-linecap="round"/>
<line x1="307.54" y1="852.10" x2="307.54" y2="857.40" stroke="#000" stroke-width="4.4" stroke-linecap="round"/>
<line x1="345.88" y1="852.10" x2="345.88" y2="857.40" stroke="#000" stroke-width="4.4" stroke-linecap="round"/>
<line x1="384.21" y1="852.10" x2="384.21" y2="857.40" stroke="#000" stroke-width="4.4" stroke-linecap="round"/>
<line x1="422.54" y1="852.10" x2="422.54" y2="857.40" stroke="#000" stroke-width="4.4" stroke-linecap="round"/>
<line x1="460.88" y1="852.10" x2="460.88" y2="857.40" stroke="#000" stroke-width="4.4" stroke-linecap="round"/>
<text transform="translate(82.34,594.10) scale(0.9700,1)" font-size="31.5" letter-spacing="2.485">200</text>
<text transform="translate(83.70,661.20) scale(0.9700,1)" font-size="31.5" letter-spacing="1.789">150</text>
<text transform="translate(83.70,728.30) scale(0.9700,1)" font-size="31.5" letter-spacing="1.789">100</text>
<text transform="translate(101.79,795.40) scale(0.9700,1)" font-size="31.5" letter-spacing="2.427">50</text>
<text transform="translate(121.43,862.50) scale(0.9508,1)" font-size="31.5" letter-spacing="0.000">0</text>
<text transform="translate(146.39,885.90) scale(0.9836,1)" font-size="31.5" letter-spacing="0.000">0</text>
<text transform="translate(214.00,891.70) scale(0.9700,1)" font-size="31.5" letter-spacing="0.665">10</text>
<text transform="translate(289.85,888.40) scale(0.9700,1)" font-size="31.5" letter-spacing="1.852">20</text>
<text transform="translate(367.91,888.40) scale(0.9700,1)" font-size="31.5" letter-spacing="0.755">30</text>
<text transform="translate(444.09,888.40) scale(0.9700,1)" font-size="31.5" letter-spacing="1.080">40</text>
<text transform="translate(229.39,927.90) scale(0.9700,1)" font-size="31.5" letter-spacing="1.836">Time (min)</text>
<text transform="translate(61.30,793.80) rotate(-90) translate(-1.15,0.00) scale(0.9200,1)" font-size="31.5" letter-spacing="2.573">cIPSC (%)</text>
<line x1="251.5" y1="715.4" x2="476" y2="715.4" stroke="#000" stroke-width="4.2" stroke-linecap="round" stroke-dasharray="2.2 8.6"/>
<rect x="233.00" y="676.20" width="107.00" height="5.80" fill="#3a2e29"/>
<text transform="translate(210.51,658.40) scale(1.0600,1)" font-size="23.0" letter-spacing="0.159">LTG (100 µM)</text>
<path d="M154.2,709.1V729.8 M156.8,704.1V720.9 M159.3,703.4V721.4 M161.9,703.5V716.5 M164.4,692.7V722.0 M167.0,696.9V718.3 M169.5,701.3V725.6 M172.1,704.9V732.7 M174.6,708.7V721.1 M177.2,703.0V719.2 M179.8,710.7V727.5 M182.3,705.8V722.2 M184.9,688.8V708.8 M187.4,707.5V722.5 M190.0,706.4V725.7 M192.5,704.9V724.9 M195.1,702.0V714.1 M197.6,708.5V729.2 M200.2,707.2V719.9 M202.8,711.5V730.9 M205.3,708.3V729.4 M207.9,714.4V727.6 M210.4,712.9V732.5 M213.0,714.5V731.8 M215.5,712.2V725.5 M218.1,705.6V718.8 M220.6,706.2V727.4 M223.2,705.1V720.1 M225.8,702.9V723.0 M228.3,700.1V713.1 M230.9,708.9V738.1 M233.4,707.7V741.2 M236.0,703.0V725.0 M238.5,699.7V723.5 M241.1,702.6V729.1 M243.6,720.7V741.9 M246.2,721.3V743.4 M248.8,736.6V765.4 M251.3,730.0V760.6 M253.9,723.6V758.8 M256.4,732.8V754.8 M259.0,745.4V767.6 M261.5,755.7V776.9 M264.1,758.5V778.2 M266.6,764.2V791.3 M269.2,758.3V789.4 M271.8,750.3V785.8 M274.3,762.3V783.4 M276.9,764.5V788.2 M279.4,759.8V791.8 M282.0,761.9V793.3 M284.5,772.3V791.3 M287.1,770.3V789.4 M289.7,776.1V801.3 M292.2,775.0V794.8 M294.8,745.2V773.8 M297.3,763.7V793.1 M299.9,774.5V798.0 M302.4,758.2V782.5 M305.0,770.0V800.4 M307.5,769.9V796.5 M310.1,773.7V793.6 M312.7,755.8V784.3 M315.2,767.1V795.7 M317.8,780.5V800.4 M320.3,768.7V787.9 M322.9,771.9V800.1 M325.4,768.8V795.8 M328.0,771.9V794.7 M330.5,772.3V793.8 M333.1,765.8V790.5 M335.7,777.5V800.7 M338.2,769.0V798.6 M340.8,765.5V796.1 M343.3,779.8V800.4 M345.9,773.8V803.8 M348.4,778.7V801.2 M351.0,781.9V806.7 M353.5,761.3V788.5 M356.1,765.1V788.2 M358.7,760.0V799.0 M361.2,742.7V796.7 M363.8,740.9V770.9 M366.3,729.1V767.0 M368.9,719.2V758.9 M371.4,723.0V763.2 M374.0,729.7V765.7 M376.5,725.8V765.1 M379.1,718.4V751.4 M381.7,716.1V740.4 M384.2,704.7V734.0 M386.8,702.3V739.5 M389.3,713.4V745.0 M391.9,704.7V759.3 M394.4,702.0V728.6 M397.0,712.0V747.9 M399.5,711.8V752.5 M402.1,705.2V747.1 M404.7,716.6V754.3 M407.2,713.4V749.6 M409.8,697.9V740.5 M412.3,683.7V717.9 M414.9,693.3V733.6 M417.4,689.2V714.9 M420.0,709.0V755.7 M422.5,696.0V748.8 M425.1,699.7V730.2 M427.7,696.9V737.2 M430.2,700.7V740.7 M432.8,689.6V731.5 M435.3,714.9V743.2 M437.9,712.0V741.6 M440.4,704.2V744.2 M443.0,706.2V736.2 M445.5,688.8V716.8 M448.1,706.8V749.2 M450.7,715.3V749.5 M453.2,690.9V739.9 M455.8,684.7V716.4 M458.3,701.0V735.7 M460.9,701.7V735.9 M169.5,691.1V717.9 M184.9,692.4V716.6 M270.7,731.3V766.2 M359.3,775.6V807.8 M386.1,688.4V726.0 M415.6,681.7V705.8 M432.5,687.0V713.9 M455.5,683.0V720.6 M460.9,691.1V744.7" stroke="#000" stroke-width="2.5" fill="none"/>
<path d="M154.2,719.5 L156.8,712.5 L159.3,712.4 L161.9,710.0 L164.4,707.3 L167.0,707.6 L169.5,713.4 L172.1,718.8 L174.6,714.9 L177.2,711.1 L179.8,719.1 L182.3,714.0 L184.9,698.8 L187.4,715.0 L190.0,716.1 L192.5,714.9 L195.1,708.0 L197.6,718.9 L200.2,713.5 L202.8,721.2 L205.3,718.8 L207.9,721.0 L210.4,722.7 L213.0,723.1 L215.5,718.8 L218.1,712.2 L220.6,716.8 L223.2,712.6 L225.8,712.9 L228.3,706.6 L230.9,723.5 L233.4,724.5 L236.0,714.0 L238.5,711.6 L241.1,715.8 L243.6,731.3 L246.2,732.4 L248.8,751.0 L251.3,745.3 L253.9,741.2 L256.4,743.8 L259.0,756.5 L261.5,766.3 L264.1,768.4 L266.6,777.7 L269.2,773.9 L271.8,768.0 L274.3,772.8 L276.9,776.4 L279.4,775.8 L282.0,777.6 L284.5,781.8 L287.1,779.8 L289.7,788.7 L292.2,784.9 L294.8,759.5 L297.3,778.4 L299.9,786.2 L302.4,770.4 L305.0,785.2 L307.5,783.2 L310.1,783.6 L312.7,770.0 L315.2,781.4 L317.8,790.5 L320.3,778.3 L322.9,786.0 L325.4,782.3 L328.0,783.3 L330.5,783.1 L333.1,778.2 L335.7,789.1 L338.2,783.8 L340.8,780.8 L343.3,790.1 L345.9,788.8 L348.4,790.0 L351.0,794.3 L353.5,774.9 L356.1,776.6 L358.7,779.5 L361.2,769.7 L363.8,755.9 L366.3,748.1 L368.9,739.0 L371.4,743.1 L374.0,747.7 L376.5,745.4 L379.1,734.9 L381.7,728.3 L384.2,719.4 L386.8,720.9 L389.3,729.2 L391.9,732.0 L394.4,715.3 L397.0,729.9 L399.5,732.2 L402.1,726.1 L404.7,735.5 L407.2,731.5 L409.8,719.2 L412.3,700.8 L414.9,713.5 L417.4,702.1 L420.0,732.3 L422.5,722.4 L425.1,715.0 L427.7,717.0 L430.2,720.7 L432.8,710.5 L435.3,729.1 L437.9,726.8 L440.4,724.2 L443.0,721.2 L445.5,702.8 L448.1,728.0 L450.7,732.4 L453.2,715.4 L455.8,700.6 L458.3,718.3 L460.9,718.8" stroke="#000" stroke-width="4.2" stroke-linejoin="round" stroke-linecap="round" fill="none"/>
<path d="M154.2,719.5h0 M156.8,712.5h0 M159.3,712.4h0 M161.9,710.0h0 M164.4,707.3h0 M167.0,707.6h0 M169.5,713.4h0 M172.1,718.8h0 M174.6,714.9h0 M177.2,711.1h0 M179.8,719.1h0 M182.3,714.0h0 M184.9,698.8h0 M187.4,715.0h0 M190.0,716.1h0 M192.5,714.9h0 M195.1,708.0h0 M197.6,718.9h0 M200.2,713.5h0 M202.8,721.2h0 M205.3,718.8h0 M207.9,721.0h0 M210.4,722.7h0 M213.0,723.1h0 M215.5,718.8h0 M218.1,712.2h0 M220.6,716.8h0 M223.2,712.6h0 M225.8,712.9h0 M228.3,706.6h0 M230.9,723.5h0 M233.4,724.5h0 M236.0,714.0h0 M238.5,711.6h0 M241.1,715.8h0 M243.6,731.3h0 M246.2,732.4h0 M248.8,751.0h0 M251.3,745.3h0 M253.9,741.2h0 M256.4,743.8h0 M259.0,756.5h0 M261.5,766.3h0 M264.1,768.4h0 M266.6,777.7h0 M269.2,773.9h0 M271.8,768.0h0 M274.3,772.8h0 M276.9,776.4h0 M279.4,775.8h0 M282.0,777.6h0 M284.5,781.8h0 M287.1,779.8h0 M289.7,788.7h0 M292.2,784.9h0 M294.8,759.5h0 M297.3,778.4h0 M299.9,786.2h0 M302.4,770.4h0 M305.0,785.2h0 M307.5,783.2h0 M310.1,783.6h0 M312.7,770.0h0 M315.2,781.4h0 M317.8,790.5h0 M320.3,778.3h0 M322.9,786.0h0 M325.4,782.3h0 M328.0,783.3h0 M330.5,783.1h0 M333.1,778.2h0 M335.7,789.1h0 M338.2,783.8h0 M340.8,780.8h0 M343.3,790.1h0 M345.9,788.8h0 M348.4,790.0h0 M351.0,794.3h0 M353.5,774.9h0 M356.1,776.6h0 M358.7,779.5h0 M361.2,769.7h0 M363.8,755.9h0 M366.3,748.1h0 M368.9,739.0h0 M371.4,743.1h0 M374.0,747.7h0 M376.5,745.4h0 M379.1,734.9h0 M381.7,728.3h0 M384.2,719.4h0 M386.8,720.9h0 M389.3,729.2h0 M391.9,732.0h0 M394.4,715.3h0 M397.0,729.9h0 M399.5,732.2h0 M402.1,726.1h0 M404.7,735.5h0 M407.2,731.5h0 M409.8,719.2h0 M412.3,700.8h0 M414.9,713.5h0 M417.4,702.1h0 M420.0,732.3h0 M422.5,722.4h0 M425.1,715.0h0 M427.7,717.0h0 M430.2,720.7h0 M432.8,710.5h0 M435.3,729.1h0 M437.9,726.8h0 M440.4,724.2h0 M443.0,721.2h0 M445.5,702.8h0 M448.1,728.0h0 M450.7,732.4h0 M453.2,715.4h0 M455.8,700.6h0 M458.3,718.3h0 M460.9,718.8h0 M169.5,704.5h0 M184.9,704.5h0 M270.7,748.8h0 M359.3,791.7h0 M386.1,707.2h0 M415.6,693.7h0 M432.5,700.5h0 M455.5,701.8h0 M460.9,717.9h0" stroke="#000" stroke-width="6.6" stroke-linecap="round" fill="none"/>
<!-- Panel D : concentration-response curve -->
<text transform="translate(545.67,520.40) scale(0.9076,1)" font-size="50.0" letter-spacing="0.000">D</text>
<line x1="687.00" y1="579.40" x2="687.00" y2="857.00" stroke="#000" stroke-width="4.9" stroke-linecap="butt"/>
<circle cx="687.00" cy="857.00" r="2.45" fill="#000"/>
<line x1="681.40" y1="851.50" x2="995.50" y2="851.50" stroke="#000" stroke-width="4.8" stroke-linecap="butt"/>
<line x1="681.40" y1="851.50" x2="690.00" y2="851.50" stroke="#000" stroke-width="4.4" stroke-linecap="round"/>
<line x1="680.60" y1="851.50" x2="687.00" y2="851.50" stroke="#000" stroke-width="3.8" stroke-linecap="round"/>
<line x1="680.60" y1="824.50" x2="687.00" y2="824.50" stroke="#000" stroke-width="3.8" stroke-linecap="round"/>
<line x1="680.60" y1="797.50" x2="687.00" y2="797.50" stroke="#000" stroke-width="3.8" stroke-linecap="round"/>
<line x1="680.60" y1="770.50" x2="687.00" y2="770.50" stroke="#000" stroke-width="3.8" stroke-linecap="round"/>
<line x1="680.60" y1="743.50" x2="687.00" y2="743.50" stroke="#000" stroke-width="3.8" stroke-linecap="round"/>
<line x1="680.60" y1="716.50" x2="687.00" y2="716.50" stroke="#000" stroke-width="3.8" stroke-linecap="round"/>
<line x1="680.60" y1="689.50" x2="687.00" y2="689.50" stroke="#000" stroke-width="3.8" stroke-linecap="round"/>
<line x1="680.60" y1="662.50" x2="687.00" y2="662.50" stroke="#000" stroke-width="3.8" stroke-linecap="round"/>
<line x1="680.60" y1="635.50" x2="687.00" y2="635.50" stroke="#000" stroke-width="3.8" stroke-linecap="round"/>
<line x1="680.60" y1="608.50" x2="687.00" y2="608.50" stroke="#000" stroke-width="3.8" stroke-linecap="round"/>
<line x1="680.60" y1="581.50" x2="687.00" y2="581.50" stroke="#000" stroke-width="3.8" stroke-linecap="round"/>
<line x1="686.25" y1="851.50" x2="686.25" y2="857.60" stroke="#000" stroke-width="3.8" stroke-linecap="round"/>
<line x1="704.69" y1="851.50" x2="704.69" y2="856.00" stroke="#000" stroke-width="3.3" stroke-linecap="round"/>
<line x1="715.47" y1="851.50" x2="715.47" y2="856.00" stroke="#000" stroke-width="3.3" stroke-linecap="round"/>
<line x1="723.13" y1="851.50" x2="723.13" y2="856.00" stroke="#000" stroke-width="3.3" stroke-linecap="round"/>
<line x1="729.06" y1="851.50" x2="729.06" y2="856.00" stroke="#000" stroke-width="3.3" stroke-linecap="round"/>
<line x1="733.91" y1="851.50" x2="733.91" y2="856.00" stroke="#000" stroke-width="3.3" stroke-linecap="round"/>
<line x1="738.01" y1="851.50" x2="738.01" y2="856.00" stroke="#000" stroke-width="3.3" stroke-linecap="round"/>
<line x1="741.56" y1="851.50" x2="741.56" y2="856.00" stroke="#000" stroke-width="3.3" stroke-linecap="round"/>
<line x1="744.70" y1="851.50" x2="744.70" y2="856.00" stroke="#000" stroke-width="3.3" stroke-linecap="round"/>
<line x1="747.50" y1="851.50" x2="747.50" y2="857.60" stroke="#000" stroke-width="3.8" stroke-linecap="round"/>
<line x1="765.94" y1="851.50" x2="765.94" y2="856.00" stroke="#000" stroke-width="3.3" stroke-linecap="round"/>
<line x1="776.72" y1="851.50" x2="776.72" y2="856.00" stroke="#000" stroke-width="3.3" stroke-linecap="round"/>
<line x1="784.38" y1="851.50" x2="784.38" y2="856.00" stroke="#000" stroke-width="3.3" stroke-linecap="round"/>
<line x1="790.31" y1="851.50" x2="790.31" y2="856.00" stroke="#000" stroke-width="3.3" stroke-linecap="round"/>
<line x1="795.16" y1="851.50" x2="795.16" y2="856.00" stroke="#000" stroke-width="3.3" stroke-linecap="round"/>
<line x1="799.26" y1="851.50" x2="799.26" y2="856.00" stroke="#000" stroke-width="3.3" stroke-linecap="round"/>
<line x1="802.81" y1="851.50" x2="802.81" y2="856.00" stroke="#000" stroke-width="3.3" stroke-linecap="round"/>
<line x1="805.95" y1="851.50" x2="805.95" y2="856.00" stroke="#000" stroke-width="3.3" stroke-linecap="round"/>
<line x1="808.75" y1="851.50" x2="808.75" y2="857.60" stroke="#000" stroke-width="3.8" stroke-linecap="round"/>
<line x1="827.19" y1="851.50" x2="827.19" y2="856.00" stroke="#000" stroke-width="3.3" stroke-linecap="round"/>
<line x1="837.97" y1="851.50" x2="837.97" y2="856.00" stroke="#000" stroke-width="3.3" stroke-linecap="round"/>
<line x1="845.63" y1="851.50" x2="845.63" y2="856.00" stroke="#000" stroke-width="3.3" stroke-linecap="round"/>
<line x1="851.56" y1="851.50" x2="851.56" y2="856.00" stroke="#000" stroke-width="3.3" stroke-linecap="round"/>
<line x1="856.41" y1="851.50" x2="856.41" y2="856.00" stroke="#000" stroke-width="3.3" stroke-linecap="round"/>
<line x1="860.51" y1="851.50" x2="860.51" y2="856.00" stroke="#000" stroke-width="3.3" stroke-linecap="round"/>
<line x1="864.06" y1="851.50" x2="864.06" y2="856.00" stroke="#000" stroke-width="3.3" stroke-linecap="round"/>
<line x1="867.20" y1="851.50" x2="867.20" y2="856.00" stroke="#000" stroke-width="3.3" stroke-linecap="round"/>
<line x1="870.00" y1="851.50" x2="870.00" y2="857.60" stroke="#000" stroke-width="3.8" stroke-linecap="round"/>
<line x1="888.44" y1="851.50" x2="888.44" y2="856.00" stroke="#000" stroke-width="3.3" stroke-linecap="round"/>
<line x1="899.22" y1="851.50" x2="899.22" y2="856.00" stroke="#000" stroke-width="3.3" stroke-linecap="round"/>
<line x1="906.88" y1="851.50" x2="906.88" y2="856.00" stroke="#000" stroke-width="3.3" stroke-linecap="round"/>
<line x1="912.81" y1="851.50" x2="912.81" y2="856.00" stroke="#000" stroke-width="3.3" stroke-linecap="round"/>
<line x1="917.66" y1="851.50" x2="917.66" y2="856.00" stroke="#000" stroke-width="3.3" stroke-linecap="round"/>
<line x1="921.76" y1="851.50" x2="921.76" y2="856.00" stroke="#000" stroke-width="3.3" stroke-linecap="round"/>
<line x1="925.31" y1="851.50" x2="925.31" y2="856.00" stroke="#000" stroke-width="3.3" stroke-linecap="round"/>
<line x1="928.45" y1="851.50" x2="928.45" y2="856.00" stroke="#000" stroke-width="3.3" stroke-linecap="round"/>
<line x1="931.25" y1="851.50" x2="931.25" y2="857.60" stroke="#000" stroke-width="3.8" stroke-linecap="round"/>
<line x1="949.69" y1="851.50" x2="949.69" y2="856.00" stroke="#000" stroke-width="3.3" stroke-linecap="round"/>
<line x1="960.47" y1="851.50" x2="960.47" y2="856.00" stroke="#000" stroke-width="3.3" stroke-linecap="round"/>
<line x1="968.13" y1="851.50" x2="968.13" y2="856.00" stroke="#000" stroke-width="3.3" stroke-linecap="round"/>
<line x1="974.06" y1="851.50" x2="974.06" y2="856.00" stroke="#000" stroke-width="3.3" stroke-linecap="round"/>
<line x1="978.91" y1="851.50" x2="978.91" y2="856.00" stroke="#000" stroke-width="3.3" stroke-linecap="round"/>
<line x1="983.01" y1="851.50" x2="983.01" y2="856.00" stroke="#000" stroke-width="3.3" stroke-linecap="round"/>
<line x1="986.56" y1="851.50" x2="986.56" y2="856.00" stroke="#000" stroke-width="3.3" stroke-linecap="round"/>
<line x1="989.70" y1="851.50" x2="989.70" y2="856.00" stroke="#000" stroke-width="3.3" stroke-linecap="round"/>
<line x1="995.00" y1="851.50" x2="995.00" y2="857.50" stroke="#000" stroke-width="3.0" stroke-linecap="butt"/>
<text transform="translate(615.70,591.70) scale(0.9700,1)" font-size="31.5" letter-spacing="2.304">100</text>
<text transform="translate(635.79,726.70) scale(0.9700,1)" font-size="31.5" letter-spacing="1.396">50</text>
<text transform="translate(654.43,861.60) scale(0.9508,1)" font-size="31.5" letter-spacing="0.000">0</text>
<text transform="translate(680.19,888.40) scale(0.9836,1)" font-size="31.5" letter-spacing="0.000">0</text>
<text transform="translate(729.20,888.40) scale(0.9688,1)" font-size="31.5" letter-spacing="0.000">1</text>
<text transform="translate(790.70,888.40) scale(0.9700,1)" font-size="31.5" letter-spacing="1.490">10</text>
<text transform="translate(849.50,888.40) scale(0.9700,1)" font-size="31.5" letter-spacing="1.180">10</text>
<text transform="translate(886.81,874.60) scale(0.9220,1)" font-size="16" letter-spacing="0.000">2</text>
<text transform="translate(910.20,888.40) scale(0.9700,1)" font-size="31.5" letter-spacing="-0.057">10</text>
<text transform="translate(948.08,874.60) scale(0.8387,1)" font-size="16" letter-spacing="0.000">3</text>
<text transform="translate(771.08,927.90) scale(0.9700,1)" font-size="31.5" letter-spacing="1.728">LTG (µM)</text>
<text transform="translate(593.80,868.00) rotate(-90) translate(-1.15,0.00) scale(0.9200,1)" font-size="31.5" letter-spacing="2.663">cIPSC Inhibition (%)</text>
<polyline points="687.0,846.1 689.0,846.1 691.0,846.1 693.0,846.1 695.0,846.1 697.0,846.1 699.0,846.1 701.0,846.1 703.0,846.1 705.0,846.1 707.0,846.1 709.0,846.1 711.0,846.1 713.0,846.1 715.0,846.1 717.0,846.1 719.0,846.1 721.0,846.1 723.0,846.1 725.0,846.1 727.0,846.1 729.0,846.1 731.0,846.1 733.0,846.1 735.0,846.1 737.0,846.1 739.0,846.1 741.0,846.1 743.0,846.1 745.0,846.0 747.0,846.0 749.0,846.0 751.0,846.0 753.0,846.0 755.0,846.0 757.0,846.0 759.0,846.0 761.0,845.9 763.0,845.9 765.0,845.9 767.0,845.9 769.0,845.8 771.0,845.8 773.0,845.7 775.0,845.7 777.0,845.6 779.0,845.6 781.0,845.5 783.0,845.4 785.0,845.3 787.0,845.2 789.0,845.1 791.0,845.0 793.0,844.8 795.0,844.6 797.0,844.4 799.0,844.2 801.0,843.9 803.0,843.7 805.0,843.3 807.0,842.9 809.0,842.5 811.0,842.0 813.0,841.4 815.0,840.8 817.0,840.1 819.0,839.3 821.0,838.4 823.0,837.3 825.0,836.1 827.0,834.8 829.0,833.3 831.0,831.7 833.0,829.8 835.0,827.7 837.0,825.3 839.0,822.7 841.0,819.7 843.0,816.5 845.0,812.9 847.0,808.9 849.0,804.6 851.0,799.8 853.0,794.6 855.0,789.0 857.0,783.0 859.0,776.5 861.0,769.7 863.0,762.4 865.0,754.8 867.0,746.9 869.0,738.7 871.0,730.3 873.0,721.7 875.0,713.2 877.0,704.6 879.0,696.1 881.0,687.7 883.0,679.5 885.0,671.7 887.0,664.1 889.0,656.9 891.0,650.1 893.0,643.7 895.0,637.7 897.0,632.2 899.0,627.0 901.0,622.3 903.0,618.1 905.0,614.1 907.0,610.6 909.0,607.4 911.0,604.5 913.0,601.9 915.0,599.6 917.0,597.5 919.0,595.7 921.0,594.0 923.0,592.6 925.0,591.3 927.0,590.1 929.0,589.1 931.0,588.2 933.0,587.4 935.0,586.7 937.0,586.1 939.0,585.5 941.0,585.0 943.0,584.6 945.0,584.2 947.0,583.9 949.0,583.6 951.0,583.4 953.0,583.1 955.0,582.9 957.0,582.8 959.0,582.6 961.0,582.5 963.0,582.4 965.0,582.3 967.0,582.2 969.0,582.1 971.0,582.0 973.0,581.9 975.0,581.9 977.0,581.8 979.0,581.8 981.0,581.8 983.0,581.7 985.0,581.7 987.0,581.7 989.0,581.7 991.0,581.6 993.0,581.6 995.0,581.6" fill="none" stroke="#000" stroke-width="3.3" stroke-linecap="round" stroke-linejoin="round"/>
<circle cx="747.50" cy="848.26" r="7.8" fill="#000"/>
<line x1="808.75" y1="823.42" x2="808.75" y2="849.34" stroke="#000" stroke-width="3.2" stroke-linecap="butt"/>
<circle cx="808.75" cy="836.38" r="7.8" fill="#000"/>
<line x1="837.97" y1="805.06" x2="837.97" y2="834.22" stroke="#000" stroke-width="3.2" stroke-linecap="butt"/>
<circle cx="837.97" cy="819.64" r="7.8" fill="#000"/>
<line x1="870.00" y1="712.18" x2="870.00" y2="753.22" stroke="#000" stroke-width="3.2" stroke-linecap="butt"/>
<circle cx="870.00" cy="732.70" r="7.8" fill="#000"/>
<circle cx="931.25" cy="588.25" r="7.8" fill="#000"/>
<text transform="translate(720.18,824.20) scale(0.9700,1)" font-size="31.5" letter-spacing="2.213">(5)</text>
<text transform="translate(774.98,811.70) scale(0.9700,1)" font-size="31.5" letter-spacing="2.573">(6)</text>
<text transform="translate(852.48,826.70) scale(0.9700,1)" font-size="31.5" letter-spacing="2.755">(10)</text>
<text transform="translate(880.68,742.90) scale(0.9700,1)" font-size="31.5" letter-spacing="2.515">(14)</text>
<text transform="translate(923.18,627.90) scale(0.9700,1)" font-size="31.5" letter-spacing="1.955">(5)</text>
</svg></body></html>
